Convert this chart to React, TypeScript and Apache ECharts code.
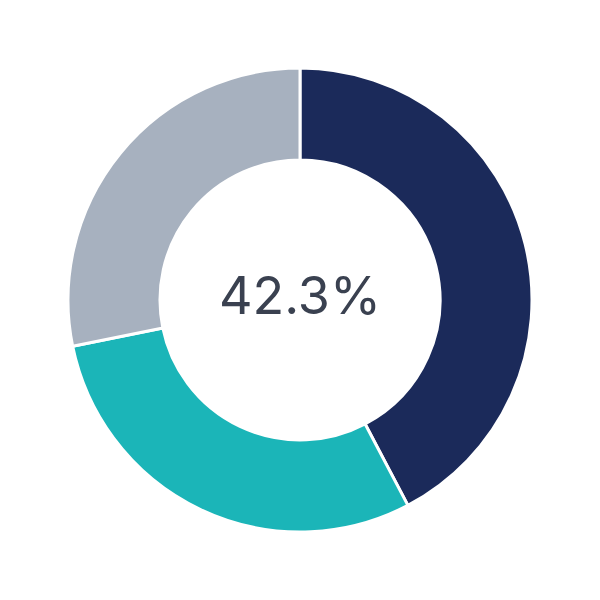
import React, { useEffect, useRef } from "react";
import * as echarts from "echarts";

const categories = ["Navy", "Teal", "Gray"];
const values = [42.3, 29.5, 28.2];
const colors = ["#1b2a5a", "#1bb5b8", "#a7b1bf"];
const centerLabel = "42.3%";

export default function App() {
  const ref = useRef<HTMLDivElement>(null);
  useEffect(() => {
    const chart = echarts.init(ref.current!, null, { renderer: "svg" });
    chart.setOption({
      animation: false,
      graphic: [
        {
          type: "text",
          x: 292,
          y: 287,
          style: {
            text: centerLabel,
            fontSize: 52,
            fontFamily: "Inter",
            fontWeight: 400,
            fill: "#3a4150",
            align: "center",
            verticalAlign: "middle",
          },
        },
      ],
      series: [
        {
          type: "pie",
          center: [292, 292],
          radius: [140, 232],
          startAngle: 90,
          clockwise: true,
          label: { show: false },
          labelLine: { show: false },
          itemStyle: { borderColor: "#ffffff", borderWidth: 3 },
          data: categories.map((c, i) => ({
            name: c,
            value: values[i],
            itemStyle: { color: colors[i] },
          })),
        },
      ],
    });
    return () => chart.dispose();
  }, []);
  return <div ref={ref} style={{ width: 584, height: 584 }} />;
}
